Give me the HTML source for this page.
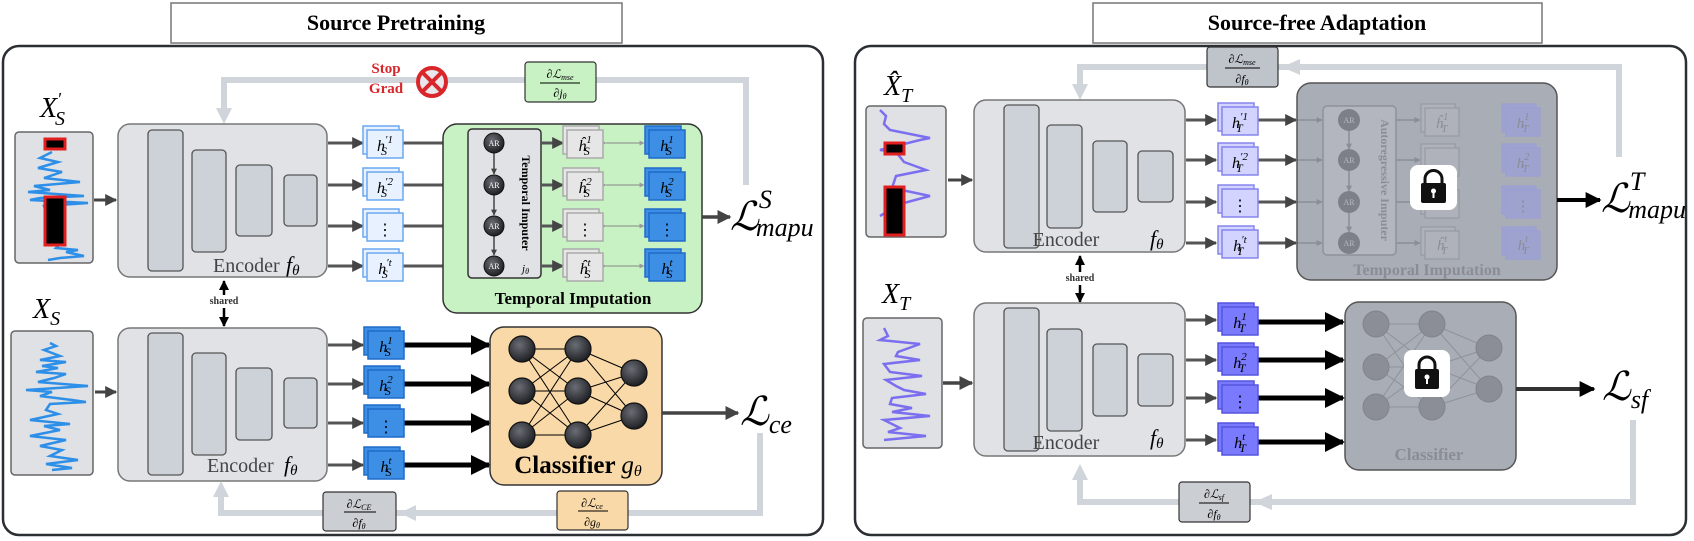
<!DOCTYPE html>
<html><head><meta charset="utf-8"><style>
html,body{margin:0;padding:0;background:#fff;}
svg{display:block;}
text{font-family:"Liberation Serif",serif;}
.m{font-style:italic;}
</style></head><body>
<svg width="1694" height="541" viewBox="0 0 1694 541" xmlns="http://www.w3.org/2000/svg">
<defs>
<radialGradient id="nd" cx="40%" cy="35%" r="65%"><stop offset="0" stop-color="#6a6d74"/><stop offset="1" stop-color="#1e2024"/></radialGradient>
<marker id="ah" viewBox="0 0 10 10" refX="9" refY="5" markerWidth="4" markerHeight="4" orient="auto"><path d="M0,0L10,5L0,10z" fill="#444"/></marker>
<marker id="ahk" viewBox="0 0 10 10" refX="9" refY="5" markerWidth="4" markerHeight="4" orient="auto"><path d="M0,0L10,5L0,10z" fill="#000"/></marker>
<marker id="ahf" viewBox="0 0 10 10" refX="9" refY="5" markerWidth="4" markerHeight="4" orient="auto"><path d="M0,0L10,5L0,10z" fill="#8a8e96"/></marker>
<marker id="ahl" viewBox="0 0 10 10" refX="9" refY="5" markerWidth="5" markerHeight="5" orient="auto"><path d="M0,0L10,5L0,10z" fill="#999"/></marker>
</defs>

<!-- ================= LEFT PANEL ================= -->
<rect x="3" y="46" width="820" height="489" rx="16" fill="#fff" stroke="#2b2e33" stroke-width="2.5"/>
<rect x="171" y="3" width="451" height="40" fill="#fff" stroke="#777" stroke-width="1.5"/>
<text x="396" y="30" font-size="22" font-weight="bold" text-anchor="middle">Source Pretraining</text>

<path d="M746,185 V80 H224 V112" fill="none" stroke="#d0d5dc" stroke-width="6"/>
<polygon points="216,108 232,108 224,124" fill="#d0d5dc"/>
<text x="386" y="73" font-size="15" font-weight="bold" fill="#d9262b" text-anchor="middle">Stop</text>
<text x="386" y="93" font-size="15" font-weight="bold" fill="#d9262b" text-anchor="middle">Grad</text>
<circle cx="432" cy="82" r="14" fill="#e8e8ec" stroke="#d9262b" stroke-width="4"/>
<path d="M422,72L442,92M442,72L422,92" stroke="#d9262b" stroke-width="4"/>
<rect x="525" y="62" width="71" height="40" rx="3" fill="#c9f2c4" stroke="#333" stroke-width="1.2"/>
<text x="560" y="78" font-size="12" class="m" text-anchor="middle">∂ℒ<tspan font-size="8" dy="2">mse</tspan></text>
<line x1="540" y1="83" x2="580" y2="83" stroke="#000" stroke-width="1"/>
<text x="560" y="97" font-size="12" class="m" text-anchor="middle">∂j<tspan font-size="8" dy="2">θ</tspan></text>

<text x="40" y="117" font-size="28" class="m">X<tspan font-size="18" dy="-12">′</tspan><tspan font-size="20" dy="20" dx="-6">S</tspan></text>
<rect x="15" y="132" width="78" height="131" rx="4" fill="#dfe1e5" stroke="#666" stroke-width="1.5"/>
<polyline points="52,152 40,158 58,162 38,168 62,172 44,178 80,182 34,186 50,190 28,192 84,196 40,198 30,200 88,203 44,206 60,244 56,248 78,250 66,252 84,256 60,258 48,260" fill="none" stroke="#2e8fe8" stroke-width="2.5"/>
<rect x="45" y="139" width="20" height="10" fill="#000" stroke="#e02020" stroke-width="3"/>
<rect x="45" y="197" width="20" height="48" fill="#000" stroke="#e02020" stroke-width="3"/>
<line x1="94" y1="200" x2="116" y2="200" stroke="#444" stroke-width="3" marker-end="url(#ah)"/>

<rect x="118" y="124" width="209" height="153" rx="12" fill="#e0e2e6" stroke="#777" stroke-width="1.5"/>
<rect x="148" y="130" width="35" height="141" rx="4" fill="#cdd1d8" stroke="#555" stroke-width="1.3"/>
<rect x="192" y="150" width="34" height="102" rx="4" fill="#cdd1d8" stroke="#555" stroke-width="1.3"/>
<rect x="236" y="165" width="36" height="71" rx="4" fill="#cdd1d8" stroke="#555" stroke-width="1.3"/>
<rect x="284" y="175" width="33" height="51" rx="4" fill="#cdd1d8" stroke="#555" stroke-width="1.3"/>
<text x="213" y="272" font-size="20" fill="#444">Encoder</text>
<text x="286" y="272" font-size="22" class="m">f<tspan font-size="15" dy="3">θ</tspan></text>

<line x1="224" y1="295" x2="224" y2="281" stroke="#000" stroke-width="2.5" marker-end="url(#ahk)"/>
<text x="224" y="304" font-size="10" font-weight="bold" fill="#333" text-anchor="middle">shared</text>
<line x1="224" y1="308" x2="224" y2="326" stroke="#000" stroke-width="2.5" marker-end="url(#ahk)"/>

<g stroke="#555" stroke-width="3" marker-end="url(#ah)">
<line x1="328" y1="143" x2="363" y2="143"/><line x1="328" y1="185" x2="363" y2="185"/>
<line x1="328" y1="226" x2="363" y2="226"/><line x1="328" y1="266" x2="363" y2="266"/>
<line x1="403" y1="143" x2="466" y2="143"/><line x1="403" y1="185" x2="466" y2="185"/>
<line x1="403" y1="226" x2="466" y2="226"/><line x1="403" y1="266" x2="466" y2="266"/>
</g>
<g fill="#e8f1ff" stroke="#6aa8f0" stroke-width="1.5">
<rect x="363" y="126" width="36" height="28"/><rect x="367" y="130" width="36" height="28"/>
<rect x="363" y="168" width="36" height="28"/><rect x="367" y="172" width="36" height="28"/>
<rect x="363" y="209" width="36" height="28"/><rect x="367" y="213" width="36" height="28"/>
<rect x="363" y="249" width="36" height="28"/><rect x="367" y="253" width="36" height="28"/>
</g>
<g font-size="16" class="m" text-anchor="middle">
<text x="385" y="151">h<tspan font-size="11" dy="-8">′1</tspan><tspan font-size="12" dy="12" dx="-12">S</tspan></text>
<text x="385" y="193">h<tspan font-size="11" dy="-8">′2</tspan><tspan font-size="12" dy="12" dx="-12">S</tspan></text>
<text x="385" y="235" font-style="normal">⋮</text>
<text x="385" y="274">h<tspan font-size="11" dy="-8">′t</tspan><tspan font-size="12" dy="12" dx="-10">S</tspan></text>
</g>

<rect x="443" y="124" width="259" height="189" rx="14" fill="#c9f2c4" stroke="#333" stroke-width="1.5"/>
<rect x="468" y="129" width="73" height="149" rx="4" fill="#e0e2e6" stroke="#333" stroke-width="1.5"/>
<g stroke="#444" stroke-width="1.5" marker-end="url(#ah)">
<line x1="494" y1="153" x2="494" y2="174"/><line x1="494" y1="195" x2="494" y2="215"/><line x1="494" y1="236" x2="494" y2="255"/>
</g>
<g fill="url(#nd)" stroke="#111">
<circle cx="494" cy="143" r="10"/><circle cx="494" cy="185" r="10"/><circle cx="494" cy="226" r="10"/><circle cx="494" cy="266" r="10"/>
</g>
<g font-size="8" fill="#fff" text-anchor="middle"><text x="494" y="146">AR</text><text x="494" y="188">AR</text><text x="494" y="229">AR</text><text x="494" y="269">AR</text></g>
<text transform="translate(522,203) rotate(90)" font-size="12" font-weight="bold" text-anchor="middle">Temporal Imputer</text>
<text x="522" y="272" font-size="11" class="m">j<tspan font-size="8" dy="2">θ</tspan></text>
<g stroke="#555" stroke-width="3" marker-end="url(#ah)">
<line x1="541" y1="143" x2="563" y2="143"/><line x1="541" y1="185" x2="563" y2="185"/>
<line x1="541" y1="226" x2="563" y2="226"/><line x1="541" y1="266" x2="563" y2="266"/>
</g>
<g stroke="#888" stroke-width="1" marker-start="url(#ahl)" marker-end="url(#ahl)">
<line x1="606" y1="143" x2="644" y2="143"/><line x1="606" y1="185" x2="644" y2="185"/>
<line x1="606" y1="226" x2="644" y2="226"/><line x1="606" y1="266" x2="644" y2="266"/>
</g>
<g fill="#e6e6e6" stroke="#aaa" stroke-width="1.5">
<rect x="563" y="126" width="36" height="28"/><rect x="567" y="130" width="36" height="28"/>
<rect x="563" y="168" width="36" height="28"/><rect x="567" y="172" width="36" height="28"/>
<rect x="563" y="209" width="36" height="28"/><rect x="567" y="213" width="36" height="28"/>
<rect x="563" y="249" width="36" height="28"/><rect x="567" y="253" width="36" height="28"/>
</g>
<g font-size="16" class="m" text-anchor="middle">
<text x="585" y="151">ĥ<tspan font-size="11" dy="-8">1</tspan><tspan font-size="12" dy="12" dx="-8">S</tspan></text>
<text x="585" y="193">ĥ<tspan font-size="11" dy="-8">2</tspan><tspan font-size="12" dy="12" dx="-8">S</tspan></text>
<text x="585" y="235" font-style="normal">⋮</text>
<text x="585" y="274">ĥ<tspan font-size="11" dy="-8">t</tspan><tspan font-size="12" dy="12" dx="-6">S</tspan></text>
</g>
<g fill="#3d8fe6" stroke="#1f6bc9" stroke-width="1.5">
<rect x="645" y="126" width="36" height="28"/><rect x="649" y="130" width="36" height="28"/>
<rect x="645" y="168" width="36" height="28"/><rect x="649" y="172" width="36" height="28"/>
<rect x="645" y="209" width="36" height="28"/><rect x="649" y="213" width="36" height="28"/>
<rect x="645" y="249" width="36" height="28"/><rect x="649" y="253" width="36" height="28"/>
</g>
<g font-size="16" class="m" text-anchor="middle">
<text x="667" y="151">h<tspan font-size="11" dy="-8">1</tspan><tspan font-size="12" dy="12" dx="-8">S</tspan></text>
<text x="667" y="193">h<tspan font-size="11" dy="-8">2</tspan><tspan font-size="12" dy="12" dx="-8">S</tspan></text>
<text x="667" y="235" font-style="normal">⋮</text>
<text x="667" y="274">h<tspan font-size="11" dy="-8">t</tspan><tspan font-size="12" dy="12" dx="-6">S</tspan></text>
</g>
<text x="573" y="304" font-size="17" font-weight="bold" text-anchor="middle">Temporal Imputation</text>
<line x1="702" y1="217" x2="730" y2="217" stroke="#444" stroke-width="3.5" marker-end="url(#ah)"/>
<text x="730" y="230" font-size="40" class="m">ℒ<tspan font-size="26" dy="-22">S</tspan><tspan font-size="26" dy="28" dx="-16">mapu</tspan></text>

<text x="33" y="318" font-size="28" class="m">X<tspan font-size="20" dy="7">S</tspan></text>
<rect x="11" y="331" width="82" height="144" rx="4" fill="#dfe1e5" stroke="#666" stroke-width="1.5"/>
<polyline points="50,343 56,346 44,350 60,356 40,360 66,362 42,366 58,368 36,372 66,374 54,378 38,382 88,386 26,390 52,392 40,396 72,400 86,402 50,404 46,410 58,414 30,420 70,424 44,426 60,430 30,436 66,440 40,446 62,450 50,456 78,460 46,464 72,468 52,470" fill="none" stroke="#2e8fe8" stroke-width="2.5"/>
<line x1="95" y1="392" x2="116" y2="392" stroke="#444" stroke-width="3" marker-end="url(#ah)"/>

<rect x="118" y="328" width="209" height="153" rx="12" fill="#e0e2e6" stroke="#777" stroke-width="1.5"/>
<rect x="148" y="333" width="35" height="142" rx="4" fill="#cdd1d8" stroke="#555" stroke-width="1.3"/>
<rect x="192" y="353" width="34" height="102" rx="4" fill="#cdd1d8" stroke="#555" stroke-width="1.3"/>
<rect x="236" y="368" width="36" height="72" rx="4" fill="#cdd1d8" stroke="#555" stroke-width="1.3"/>
<rect x="284" y="378" width="33" height="50" rx="4" fill="#cdd1d8" stroke="#555" stroke-width="1.3"/>
<text x="207" y="472" font-size="20" fill="#444">Encoder</text>
<text x="284" y="472" font-size="22" class="m">f<tspan font-size="15" dy="3">θ</tspan></text>

<g stroke="#555" stroke-width="3" marker-end="url(#ah)">
<line x1="328" y1="345" x2="363" y2="345"/><line x1="328" y1="384" x2="363" y2="384"/>
<line x1="328" y1="423" x2="363" y2="423"/><line x1="328" y1="465" x2="363" y2="465"/>
</g>
<g stroke="#000" stroke-width="5" marker-end="url(#ahk)">
<line x1="403" y1="345" x2="489" y2="345"/><line x1="403" y1="384" x2="489" y2="384"/>
<line x1="403" y1="423" x2="489" y2="423"/><line x1="403" y1="465" x2="489" y2="465"/>
</g>
<g fill="#3d8fe6" stroke="#1f6bc9" stroke-width="1.5">
<rect x="364" y="327" width="36" height="28"/><rect x="368" y="331" width="36" height="28"/>
<rect x="364" y="366" width="36" height="28"/><rect x="368" y="370" width="36" height="28"/>
<rect x="364" y="405" width="36" height="28"/><rect x="368" y="409" width="36" height="28"/>
<rect x="364" y="447" width="36" height="28"/><rect x="368" y="451" width="36" height="28"/>
</g>
<g font-size="16" class="m" text-anchor="middle">
<text x="386" y="352">h<tspan font-size="11" dy="-8">1</tspan><tspan font-size="12" dy="12" dx="-8">S</tspan></text>
<text x="386" y="391">h<tspan font-size="11" dy="-8">2</tspan><tspan font-size="12" dy="12" dx="-8">S</tspan></text>
<text x="386" y="432" font-style="normal">⋮</text>
<text x="386" y="472">h<tspan font-size="11" dy="-8">t</tspan><tspan font-size="12" dy="12" dx="-6">S</tspan></text>
</g>

<rect x="490" y="327" width="172" height="158" rx="14" fill="#f9d9a8" stroke="#333" stroke-width="1.5"/>
<g stroke="#000" stroke-width="1">
<path d="M522,349L578,349M522,349L578,391M522,349L578,435M522,391L578,349M522,391L578,391M522,391L578,435M522,435L578,349M522,435L578,391M522,435L578,435M578,349L634,373M578,349L634,416M578,391L634,373M578,391L634,416M578,435L634,373M578,435L634,416"/>
</g>
<g fill="url(#nd)" stroke="#111" stroke-width="1.2">
<circle cx="522" cy="349" r="13"/><circle cx="522" cy="391" r="13"/><circle cx="522" cy="435" r="13"/>
<circle cx="578" cy="349" r="13"/><circle cx="578" cy="391" r="13"/><circle cx="578" cy="435" r="13"/>
<circle cx="634" cy="373" r="13"/><circle cx="634" cy="416" r="13"/>
</g>
<text x="578" y="473" font-size="25" font-weight="bold" text-anchor="middle">Classifier <tspan font-weight="normal" font-style="italic">g<tspan font-size="16" dy="3">θ</tspan></tspan></text>
<line x1="662" y1="413" x2="738" y2="413" stroke="#444" stroke-width="3.5" marker-end="url(#ah)"/>
<text x="740" y="425" font-size="40" class="m">ℒ<tspan font-size="26" dy="8">ce</tspan></text>

<path d="M760,433 V513 H221 V493" fill="none" stroke="#d0d5dc" stroke-width="6"/>
<polygon points="213,497 229,497 221,481" fill="#d0d5dc"/>
<polygon points="416,505 416,521 400,513" fill="#d0d5dc"/>
<rect x="323" y="492" width="73" height="39" rx="3" fill="#cbced3" stroke="#333" stroke-width="1.2"/>
<text x="359" y="508" font-size="12" class="m" text-anchor="middle">∂ℒ<tspan font-size="8" dy="2">CE</tspan></text>
<line x1="344" y1="512" x2="376" y2="512" stroke="#000"/>
<text x="359" y="527" font-size="12" class="m" text-anchor="middle">∂f<tspan font-size="8" dy="2">θ</tspan></text>
<rect x="557" y="491" width="71" height="39" rx="3" fill="#f9d9a8" stroke="#333" stroke-width="1.2"/>
<text x="592" y="507" font-size="12" class="m" text-anchor="middle">∂ℒ<tspan font-size="8" dy="2">ce</tspan></text>
<line x1="578" y1="511" x2="608" y2="511" stroke="#000"/>
<text x="592" y="526" font-size="12" class="m" text-anchor="middle">∂g<tspan font-size="8" dy="2">θ</tspan></text>

<!-- ================= RIGHT PANEL ================= -->
<rect x="855" y="46" width="831" height="489" rx="16" fill="#fff" stroke="#2b2e33" stroke-width="2.5"/>
<rect x="1093" y="3" width="449" height="40" fill="#fff" stroke="#777" stroke-width="1.5"/>
<text x="1317" y="30" font-size="22" font-weight="bold" text-anchor="middle">Source-free Adaptation</text>

<path d="M1619,157 V67 H1080 V86" fill="none" stroke="#d0d5dc" stroke-width="6"/>
<polygon points="1072,84 1088,84 1080,100" fill="#d0d5dc"/>
<polygon points="1300,59 1300,75 1282,67" fill="#d0d5dc"/>
<rect x="1207" y="47" width="71" height="40" rx="3" fill="#bfc3ca" stroke="#333" stroke-width="1.2"/>
<text x="1242" y="63" font-size="12" class="m" text-anchor="middle">∂ℒ<tspan font-size="8" dy="2">mse</tspan></text>
<line x1="1225" y1="68" x2="1260" y2="68" stroke="#000"/>
<text x="1242" y="83" font-size="12" class="m" text-anchor="middle">∂f<tspan font-size="8" dy="2">θ</tspan></text>

<text x="884" y="95" font-size="28" class="m">X̂<tspan font-size="20" dy="7">T</tspan></text>
<rect x="866" y="106" width="80" height="131" rx="4" fill="#dfe1e5" stroke="#666" stroke-width="1.5"/>
<polyline points="880,110 886,116 884,124 890,130 930,138 920,140 880,150 896,152 904,162 926,170 896,176 892,188 930,196 900,204 880,216" fill="none" stroke="#7b6ff0" stroke-width="2.5"/>
<rect x="885" y="143" width="19" height="11" fill="#000" stroke="#e02020" stroke-width="3"/>
<rect x="885" y="187" width="19" height="48" fill="#000" stroke="#e02020" stroke-width="3"/>
<line x1="948" y1="180" x2="972" y2="180" stroke="#444" stroke-width="3" marker-end="url(#ah)"/>

<rect x="974" y="100" width="211" height="152" rx="12" fill="#e0e2e6" stroke="#777" stroke-width="1.5"/>
<rect x="1004" y="105" width="35" height="143" rx="4" fill="#cdd1d8" stroke="#555" stroke-width="1.3"/>
<rect x="1047" y="125" width="35" height="103" rx="4" fill="#cdd1d8" stroke="#555" stroke-width="1.3"/>
<rect x="1093" y="141" width="34" height="71" rx="4" fill="#cdd1d8" stroke="#555" stroke-width="1.3"/>
<rect x="1138" y="151" width="35" height="51" rx="4" fill="#cdd1d8" stroke="#555" stroke-width="1.3"/>
<text x="1066" y="246" font-size="20" fill="#444" text-anchor="middle">Encoder</text>
<text x="1150" y="246" font-size="22" class="m">f<tspan font-size="15" dy="3">θ</tspan></text>

<line x1="1080" y1="272" x2="1080" y2="256" stroke="#000" stroke-width="2.5" marker-end="url(#ahk)"/>
<text x="1080" y="281" font-size="10" font-weight="bold" fill="#333" text-anchor="middle">shared</text>
<line x1="1080" y1="285" x2="1080" y2="302" stroke="#000" stroke-width="2.5" marker-end="url(#ahk)"/>

<g stroke="#555" stroke-width="3" marker-end="url(#ah)">
<line x1="1186" y1="120" x2="1216" y2="120"/><line x1="1186" y1="160" x2="1216" y2="160"/>
<line x1="1186" y1="202" x2="1216" y2="202"/><line x1="1186" y1="243" x2="1216" y2="243"/>
<line x1="1258" y1="120" x2="1296" y2="120"/><line x1="1258" y1="160" x2="1296" y2="160"/>
<line x1="1258" y1="202" x2="1296" y2="202"/><line x1="1258" y1="243" x2="1296" y2="243"/>
</g>
<g fill="#d3d3ff" stroke="#8585ee" stroke-width="1.5">
<rect x="1218" y="103" width="36" height="28"/><rect x="1222" y="107" width="36" height="28"/>
<rect x="1218" y="143" width="36" height="28"/><rect x="1222" y="147" width="36" height="28"/>
<rect x="1218" y="185" width="36" height="28"/><rect x="1222" y="189" width="36" height="28"/>
<rect x="1218" y="226" width="36" height="28"/><rect x="1222" y="230" width="36" height="28"/>
</g>
<g font-size="16" class="m" text-anchor="middle">
<text x="1240" y="128">h<tspan font-size="11" dy="-8">′1</tspan><tspan font-size="12" dy="12" dx="-12">T</tspan></text>
<text x="1240" y="168">h<tspan font-size="11" dy="-8">′2</tspan><tspan font-size="12" dy="12" dx="-12">T</tspan></text>
<text x="1240" y="211" font-style="normal">⋮</text>
<text x="1240" y="251">h<tspan font-size="11" dy="-8">′t</tspan><tspan font-size="12" dy="12" dx="-10">T</tspan></text>
</g>

<rect x="1297" y="83" width="260" height="197" rx="14" fill="#a9adb6" stroke="#555" stroke-width="1.5"/>
<rect x="1323" y="106" width="73" height="149" rx="4" fill="#b3b6be" stroke="#8e929a" stroke-width="1.5"/>
<g stroke="#8a8e96" stroke-width="1.5" marker-end="url(#ahf)">
<line x1="1349" y1="131" x2="1349" y2="149"/><line x1="1349" y1="171" x2="1349" y2="191"/><line x1="1349" y1="213" x2="1349" y2="232"/>
<line x1="1396" y1="120" x2="1420" y2="120"/><line x1="1396" y1="160" x2="1420" y2="160"/><line x1="1396" y1="202" x2="1420" y2="202"/><line x1="1396" y1="243" x2="1420" y2="243"/>
<line x1="1298" y1="120" x2="1322" y2="120"/><line x1="1298" y1="160" x2="1322" y2="160"/><line x1="1298" y1="202" x2="1322" y2="202"/><line x1="1298" y1="243" x2="1322" y2="243"/>
</g>
<g fill="#7d8088"><circle cx="1349" cy="120" r="11"/><circle cx="1349" cy="160" r="11"/><circle cx="1349" cy="202" r="11"/><circle cx="1349" cy="243" r="11"/></g>
<g font-size="8" fill="#b8bbc2" text-anchor="middle"><text x="1349" y="123">AR</text><text x="1349" y="163">AR</text><text x="1349" y="205">AR</text><text x="1349" y="246">AR</text></g>
<text transform="translate(1381,180) rotate(90)" font-size="12" font-weight="bold" fill="#8a8d95" text-anchor="middle">Autoregressive Imputer</text>
<g fill="#afb2ba" stroke="#959aa2" stroke-width="1.2">
<rect x="1421" y="104" width="34" height="28"/><rect x="1425" y="108" width="34" height="28"/>
<rect x="1421" y="144" width="34" height="28"/><rect x="1425" y="148" width="34" height="28"/>
<rect x="1421" y="186" width="34" height="28"/><rect x="1425" y="190" width="34" height="28"/>
<rect x="1421" y="227" width="34" height="28"/><rect x="1425" y="231" width="34" height="28"/>
</g>
<g fill="#9ea2cf" stroke="#9a9ed4" stroke-width="1.2">
<rect x="1502" y="104" width="34" height="28"/><rect x="1506" y="108" width="34" height="28"/>
<rect x="1502" y="144" width="34" height="28"/><rect x="1506" y="148" width="34" height="28"/>
<rect x="1502" y="186" width="34" height="28"/><rect x="1506" y="190" width="34" height="28"/>
<rect x="1502" y="227" width="34" height="28"/><rect x="1506" y="231" width="34" height="28"/>
</g>
<g font-size="15" class="m" fill="#8a8d95" text-anchor="middle">
<text x="1442" y="128">ĥ<tspan font-size="10" dy="-8">1</tspan><tspan font-size="11" dy="12" dx="-7">T</tspan></text>
<text x="1442" y="250">ĥ<tspan font-size="10" dy="-8">t</tspan><tspan font-size="11" dy="12" dx="-6">T</tspan></text>
<text x="1523" y="128">h<tspan font-size="10" dy="-8">1</tspan><tspan font-size="11" dy="12" dx="-7">T</tspan></text>
<text x="1523" y="168">h<tspan font-size="10" dy="-8">2</tspan><tspan font-size="11" dy="12" dx="-7">T</tspan></text>
<text x="1523" y="211" font-style="normal">⋮</text>
<text x="1523" y="250">h<tspan font-size="10" dy="-8">t</tspan><tspan font-size="11" dy="12" dx="-6">T</tspan></text>
</g>
<text x="1427" y="275" font-size="16" font-weight="bold" fill="#8a8d95" text-anchor="middle">Temporal Imputation</text>
<rect x="1410" y="165" width="47" height="45" rx="8" fill="#fff"/>
<path d="M1425,184 v-5 a8.5,8.5 0 0 1 17,0 v5" fill="none" stroke="#111" stroke-width="3"/>
<rect x="1421" y="183" width="25" height="20" rx="2" fill="#111"/>
<circle cx="1433.5" cy="191" r="2.5" fill="#fff"/><rect x="1432.5" y="192" width="2" height="6" fill="#fff"/>

<line x1="1557" y1="200" x2="1600" y2="200" stroke="#000" stroke-width="4" marker-end="url(#ahk)"/>
<text x="1601" y="212" font-size="40" class="m">ℒ<tspan font-size="26" dy="-22">T</tspan><tspan font-size="26" dy="28" dx="-16">mapu</tspan></text>

<text x="882" y="303" font-size="28" class="m">X<tspan font-size="20" dy="7">T</tspan></text>
<rect x="863" y="318" width="79" height="130" rx="4" fill="#dfe1e5" stroke="#666" stroke-width="1.5"/>
<polyline points="884,328 888,336 880,340 920,344 898,352 896,356 920,360 884,364 890,372 922,376 886,380 896,386 904,390 926,394 892,398 890,404 912,408 892,412 930,416 884,420 900,428 888,432 926,436 884,440" fill="none" stroke="#7b6ff0" stroke-width="2.5"/>
<line x1="943" y1="383" x2="972" y2="383" stroke="#444" stroke-width="3.5" marker-end="url(#ah)"/>

<rect x="974" y="303" width="211" height="153" rx="12" fill="#e0e2e6" stroke="#777" stroke-width="1.5"/>
<rect x="1004" y="308" width="35" height="143" rx="4" fill="#cdd1d8" stroke="#555" stroke-width="1.3"/>
<rect x="1047" y="329" width="35" height="102" rx="4" fill="#cdd1d8" stroke="#555" stroke-width="1.3"/>
<rect x="1093" y="344" width="34" height="72" rx="4" fill="#cdd1d8" stroke="#555" stroke-width="1.3"/>
<rect x="1138" y="354" width="35" height="52" rx="4" fill="#cdd1d8" stroke="#555" stroke-width="1.3"/>
<text x="1066" y="449" font-size="20" fill="#444" text-anchor="middle">Encoder</text>
<text x="1150" y="445" font-size="22" class="m">f<tspan font-size="15" dy="3">θ</tspan></text>

<g stroke="#555" stroke-width="3" marker-end="url(#ah)">
<line x1="1186" y1="320" x2="1216" y2="320"/><line x1="1186" y1="360" x2="1216" y2="360"/>
<line x1="1186" y1="398" x2="1216" y2="398"/><line x1="1186" y1="440" x2="1216" y2="440"/>
</g>
<g stroke="#000" stroke-width="5" marker-end="url(#ahk)">
<line x1="1258" y1="322" x2="1343" y2="322"/><line x1="1258" y1="360" x2="1343" y2="360"/>
<line x1="1258" y1="398" x2="1343" y2="398"/><line x1="1258" y1="442" x2="1343" y2="442"/>
</g>
<g fill="#7a7aff" stroke="#5454dd" stroke-width="1.5">
<rect x="1218" y="303" width="36" height="28"/><rect x="1222" y="307" width="36" height="28"/>
<rect x="1218" y="343" width="36" height="28"/><rect x="1222" y="347" width="36" height="28"/>
<rect x="1218" y="381" width="36" height="28"/><rect x="1222" y="385" width="36" height="28"/>
<rect x="1218" y="423" width="36" height="28"/><rect x="1222" y="427" width="36" height="28"/>
</g>
<g font-size="16" class="m" text-anchor="middle">
<text x="1240" y="328">h<tspan font-size="11" dy="-8">1</tspan><tspan font-size="12" dy="12" dx="-8">T</tspan></text>
<text x="1240" y="368">h<tspan font-size="11" dy="-8">2</tspan><tspan font-size="12" dy="12" dx="-8">T</tspan></text>
<text x="1240" y="407" font-style="normal">⋮</text>
<text x="1240" y="448">h<tspan font-size="11" dy="-8">t</tspan><tspan font-size="12" dy="12" dx="-6">T</tspan></text>
</g>

<rect x="1345" y="302" width="171" height="168" rx="14" fill="#a9adb6" stroke="#555" stroke-width="1.5"/>
<g stroke="#8e929a" stroke-width="1">
<path d="M1376,324L1432,324M1376,324L1432,367M1376,324L1432,407M1376,367L1432,324M1376,367L1432,367M1376,367L1432,407M1376,407L1432,324M1376,407L1432,367M1376,407L1432,407M1432,324L1489,348M1432,324L1489,389M1432,367L1489,348M1432,367L1489,389M1432,407L1489,348M1432,407L1489,389"/>
</g>
<g fill="#8b8e96" stroke="#80838b">
<circle cx="1376" cy="324" r="13"/><circle cx="1376" cy="367" r="13"/><circle cx="1376" cy="407" r="13"/>
<circle cx="1432" cy="324" r="13"/><circle cx="1432" cy="367" r="13"/><circle cx="1432" cy="407" r="13"/>
<circle cx="1489" cy="348" r="13"/><circle cx="1489" cy="389" r="13"/>
</g>
<text x="1429" y="460" font-size="17" font-weight="bold" fill="#8a8d95" text-anchor="middle">Classifier</text>
<rect x="1404" y="350" width="46" height="47" rx="8" fill="#fff"/>
<path d="M1419,370 v-5 a8,8 0 0 1 16,0 v5" fill="none" stroke="#111" stroke-width="3"/>
<rect x="1415" y="369" width="24" height="20" rx="2" fill="#111"/>
<circle cx="1427" cy="377" r="2.5" fill="#fff"/><rect x="1426" y="378" width="2" height="6" fill="#fff"/>

<line x1="1516" y1="389" x2="1594" y2="389" stroke="#333" stroke-width="4" marker-end="url(#ahk)"/>
<text x="1602" y="400" font-size="40" class="m">ℒ<tspan font-size="26" dy="8">sf</tspan></text>

<path d="M1633,420 V502 H1080 V476" fill="none" stroke="#d0d5dc" stroke-width="6"/>
<polygon points="1072,480 1088,480 1080,464" fill="#d0d5dc"/>
<polygon points="1272,494 1272,510 1254,502" fill="#d0d5dc"/>
<rect x="1179" y="482" width="71" height="40" rx="3" fill="#cbced3" stroke="#333" stroke-width="1.2"/>
<text x="1214" y="498" font-size="12" class="m" text-anchor="middle">∂ℒ<tspan font-size="8" dy="2">sf</tspan></text>
<line x1="1199" y1="503" x2="1229" y2="503" stroke="#000"/>
<text x="1214" y="518" font-size="12" class="m" text-anchor="middle">∂f<tspan font-size="8" dy="2">θ</tspan></text>
</svg>
</body></html>
